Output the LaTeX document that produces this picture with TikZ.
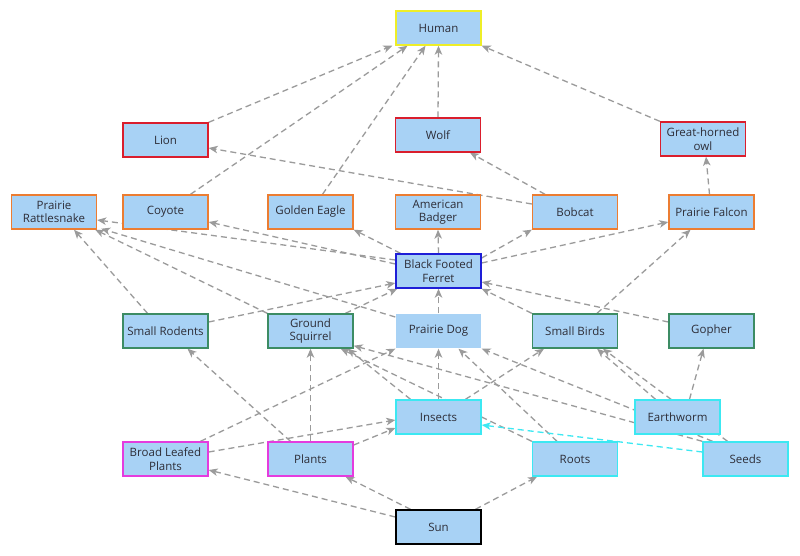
\documentclass[tikz,border=0pt]{standalone}
\usepackage{fontspec}
\setmainfont{Open Sans}
\usetikzlibrary{arrows.meta,backgrounds}
\definecolor{boxfill}{RGB}{168,210,245}
\definecolor{cyel}{RGB}{238,238,40}
\definecolor{cred}{RGB}{218,30,45}
\definecolor{corg}{RGB}{236,125,50}
\definecolor{cblu}{RGB}{30,30,215}
\definecolor{cgrn}{RGB}{60,140,100}
\definecolor{ccyn}{RGB}{60,232,242}
\definecolor{cmag}{RGB}{228,60,222}
\definecolor{edgegray}{RGB}{155,155,155}
\definecolor{txt}{RGB}{45,45,55}
\tikzset{
  sp/.style={rectangle, fill=boxfill, minimum width=85pt, minimum height=34pt, inner sep=1pt,
    line width=1.4pt, align=center, font=\fontsize{11.5}{13.5}\selectfont, text=txt},
  ed/.style={draw=edgegray, line width=1.3pt, dash pattern=on 6pt off 4pt,
    -{Stealth[length=9pt,width=7.5pt,inset=2.5pt]}},
  edc/.style={ed, draw=ccyn, -{Stealth[length=9pt,width=7.5pt,inset=2.5pt,fill=ccyn]}}
}
\begin{document}
\begin{tikzpicture}[x=1pt,y=-1pt]
\useasboundingbox (0,0) rectangle (800,556);
% nodes
\node[sp, draw=cyel] (human) at (438.5,28) {Human};
\node[sp, draw=cred] (lion) at (165.5,140) {Lion};
\node[sp, draw=cred] (wolf) at (438,135) {Wolf};
\node[sp, draw=cred] (owl) at (703,139) {Great-horned\\owl};
\node[sp, draw=corg] (rattle) at (54,212) {Prairie\\Rattlesnake};
\node[sp, draw=corg] (coyote) at (165.5,212) {Coyote};
\node[sp, draw=corg] (eagle) at (310.5,212) {Golden Eagle};
\node[sp, draw=corg] (badger) at (438,212) {American\\Badger};
\node[sp, draw=corg] (bobcat) at (575,212) {Bobcat};
\node[sp, draw=corg] (falcon) at (711.5,212) {Prairie Falcon};
\node[sp, draw=cblu] (ferret) at (438.5,271) {Black Footed\\Ferret};
\node[sp, draw=cgrn] (rodents) at (165.5,331) {Small Rodents};
\node[sp, draw=cgrn] (squirrel) at (310.5,331) {Ground\\Squirrel};
\node[sp] (pdog) at (438.5,331) {Prairie Dog};
\node[sp, draw=cgrn] (birds) at (575,331) {Small Birds};
\node[sp, draw=cgrn] (gopher) at (711.5,331) {Gopher};
\node[sp, draw=ccyn] (insects) at (438.5,417) {Insects};
\node[sp, draw=ccyn] (worm) at (677.5,417) {Earthworm};
\node[sp, draw=cmag] (blp) at (165.5,459) {Broad Leafed\\Plants};
\node[sp, draw=cmag] (plants) at (310.5,459) {Plants};
\node[sp, draw=ccyn] (roots) at (575,459) {Roots};
\node[sp, draw=ccyn] (seeds) at (745.5,459) {Seeds};
\node[sp, draw=black] (sun) at (438.5,527) {Sun};
% edges
\begin{scope}[on background layer]
\fill[white] (0,0) rectangle (800,556);
\draw[ed] (lion.north east) -- ([xshift=-3pt]human.south west);
\draw[ed] ([xshift=25pt]coyote.north) -- ([xshift=-31pt]human.south);
\draw[ed] ([xshift=12pt]eagle.north) -- ([xshift=-13pt]human.south);
\draw[ed] (wolf.north) -- (human.south);
\draw[ed] (owl.north west) -- (human.south east);
\draw[ed] ([yshift=8pt]bobcat.west) -- ([yshift=-8pt]lion.east);
\draw[ed] ([xshift=-30pt]bobcat.north) -- ([xshift=32pt]wolf.south);
\draw[ed] ([xshift=-2pt]falcon.north) -- ([xshift=3pt]owl.south);
\draw[ed] ([yshift=11pt]ferret.west) -- ([yshift=-8pt]rattle.east);
\draw[ed] ([yshift=14pt]pdog.west) -- ([xshift=4pt,yshift=1pt]rattle.south east);
\draw[ed] (squirrel.north west) -- ([xshift=-2pt]rattle.south east);
\draw[ed] ([xshift=-18pt]rodents.north) -- ([xshift=20pt]rattle.south);
\draw[ed] ([yshift=7pt]ferret.west) -- ([yshift=-10pt]coyote.east);
\draw[ed] ([xshift=-38pt]ferret.north) -- (eagle.south east);
\draw[ed] (ferret.north) -- (badger.south);
\draw[ed] ([yshift=13pt]ferret.east) -- (bobcat.south west);
\draw[ed] ([yshift=8pt]ferret.east) -- ([yshift=-10pt]falcon.west);
\draw[ed] (pdog.north) -- (ferret.south);
\draw[ed] ([yshift=9pt]rodents.east) -- ([yshift=-12pt]ferret.west);
\draw[ed] ([xshift=35pt]squirrel.north) -- ([xshift=2pt]ferret.south west);
\draw[ed] (birds.north west) -- (ferret.south east);
\draw[ed] ([yshift=9pt]gopher.west) -- ([yshift=-11pt]ferret.east);
\draw[ed] ([xshift=22pt]birds.north) -- ([xshift=-21pt]falcon.south);
\draw[ed] ([xshift=-20pt]plants.north) -- ([xshift=22pt]rodents.south);
\draw[ed] (plants.north) -- (squirrel.south);
\draw[ed] ([xshift=35pt]blp.north) -- (pdog.south west);
\draw[ed] ([yshift=7pt]blp.east) -- ([yshift=-3pt]insects.west);
\draw[ed] ([yshift=14pt]plants.east) -- ([yshift=-11pt]insects.west);
\draw[ed] ([yshift=10pt]sun.west) -- ([yshift=-11pt]blp.east);
\draw[ed] ([xshift=-28pt]sun.north) -- ([xshift=35pt]plants.south);
\draw[ed] ([xshift=37pt]sun.north) -- ([xshift=-38pt]roots.south);
\draw[ed] (insects.north) -- (pdog.south);
\draw[ed] ([xshift=27pt]insects.north) -- ([xshift=-31pt]birds.south);
\draw[ed] ([xshift=-28pt]insects.north) -- ([xshift=-6pt]squirrel.south east);
\draw[ed] (roots.north west) -- ([xshift=-13pt]squirrel.south east);
\draw[ed] ([xshift=-18pt]roots.north) -- ([xshift=20pt]pdog.south);
\draw[ed] (seeds.north west) -- ([yshift=3pt]squirrel.south east);
\draw[ed] ([xshift=-33pt]seeds.north) -- (pdog.south east);
\draw[ed] ([xshift=-18pt]seeds.north) -- ([xshift=28pt]birds.south);
\draw[ed] ([xshift=-22pt]worm.north) -- ([xshift=22pt]birds.south);
\draw[ed] ([xshift=12pt]worm.north) -- ([xshift=-8pt]gopher.south);
\draw[edc] ([yshift=7pt]seeds.west) -- ([yshift=-8pt]insects.east);
\end{scope}
\end{tikzpicture}
\end{document}
